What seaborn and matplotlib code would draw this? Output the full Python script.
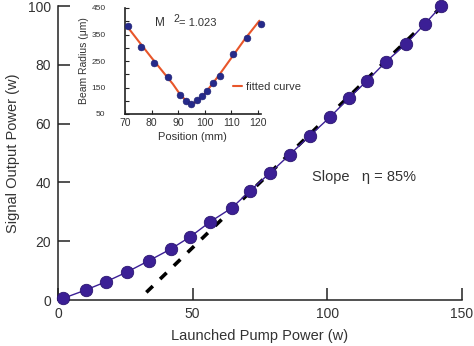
import matplotlib
matplotlib.use("Agg")
import matplotlib.pyplot as plt
import pandas as pd
import seaborn as sns

# Laser output vs. launched pump power
pump_power = [2.0, 10.3, 17.8, 25.8, 33.8, 41.8, 49.1, 56.5, 64.5, 71.4,
              78.8, 86.0, 93.4, 101.1, 107.9, 114.7, 121.6, 129.2, 136.2, 142.3]
signal_power = [0.6, 3.4, 6.2, 9.6, 13.4, 17.3, 21.5, 26.6, 31.3, 37.2,
                43.3, 49.4, 55.8, 62.3, 68.6, 74.5, 80.9, 87.1, 93.9, 100.0]

# Linear slope-efficiency fit above threshold
slope_x = [32.8, 142.3]
slope_y = [2.6, 99.6]

# Beam caustic (inset)
position_mm = [71.2, 76.2, 80.8, 86.2, 90.8, 92.8, 94.9, 97.0, 99.1, 101.0,
               102.9, 105.8, 110.7, 115.8, 121.2]
beam_radius_um = [382, 304, 244, 188, 122, 100, 88, 103, 118, 138,
                  166, 195, 276, 336, 388]
fit_position_mm = [71.0, 75.0, 80.0, 85.0, 88.0, 90.0, 92.0, 93.5, 95.0,
                   96.5, 98.0, 100.0, 102.0, 105.0, 110.0, 115.0, 120.5]
fit_radius_um = [378, 326, 262, 200, 163, 134, 110, 96, 90,
                 94, 106, 127, 153, 192, 262, 332, 402]

main_xticks = [0, 50, 100, 150]
main_yticks = [0, 20, 40, 60, 80, 100]
inset_xticks = [70, 80, 90, 100, 110, 120]
inset_yticks = [50, 100, 150, 200, 250, 300, 350, 400, 450]
inset_ylabels = ["50", "", "150", "", "250", "", "350", "", "450"]

POINT = "#3b1f95"
POINT_EDGE = "#2a1570"
FIT = "#e8562a"
TEXT = "#333333"

sns.set_theme(style="ticks")
plt.rcParams["font.family"] = ["Liberation Sans", "DejaVu Sans"]
plt.rcParams["text.color"] = TEXT
plt.rcParams["axes.labelcolor"] = TEXT

fig = plt.figure(figsize=(4.74, 3.46), dpi=100)

# ---- main axes ----
ax = fig.add_axes([58 / 474, 46 / 346, 404 / 474, 294 / 346])
main = pd.DataFrame({"pump": pump_power, "signal": signal_power})

slope_line = sns.lineplot(x=slope_x, y=slope_y, ax=ax, color="black",
                          linewidth=2.6, zorder=2)
slope_line.lines[-1].set_dashes((2.5, 2.8))
sns.lineplot(data=main, x="pump", y="signal", ax=ax, color=POINT,
             linewidth=1.0, zorder=3)
sns.scatterplot(data=main, x="pump", y="signal", ax=ax, s=80, color=POINT,
                edgecolor=POINT_EDGE, linewidth=0.6, zorder=4, clip_on=False)

ax.set_xlim(0, 150)
ax.set_ylim(0, 100)
ax.set_xticks(main_xticks)
ax.set_yticks(main_yticks)
ax.tick_params(direction="in", length=8.5, width=1.1, color="#222222",
               labelsize=10, labelcolor=TEXT, pad=5)
for side in ("top", "right"):
    ax.spines[side].set_visible(False)
for side in ("left", "bottom"):
    ax.spines[side].set_linewidth(1.1)
    ax.spines[side].set_color("#222222")
ax.set_xlabel("Launched Pump Power (w)", fontsize=10.5, labelpad=6)
ax.set_ylabel("Signal Output Power (w)", fontsize=10.5, labelpad=6)
ax.text(94.3, 41.8, "Slope   η = 85%", fontsize=10.5, va="center", ha="left")

# ---- inset: beam radius vs position ----
ins = fig.add_axes([125 / 474, (346 - 114) / 346, 135.7 / 474, 106 / 346])
ins.set_facecolor("none")
fit = pd.DataFrame({"pos": fit_position_mm, "r": fit_radius_um})
meas = pd.DataFrame({"pos": position_mm, "r": beam_radius_um})
sns.lineplot(data=fit, x="pos", y="r", ax=ins, color=FIT, linewidth=1.5,
             zorder=2, label="fitted curve")
sns.scatterplot(data=meas, x="pos", y="r", ax=ins, s=24, color="#262a8a",
                edgecolor="#1c1f70", linewidth=0.4, zorder=3, clip_on=False)

ins.set_xlim(70, 121)
ins.set_ylim(50, 450)
ins.set_xticks(inset_xticks)
ins.set_yticks(inset_yticks)
ins.set_yticklabels(inset_ylabels)
ins.tick_params(direction="in", length=3, width=0.8, color="#222222")
ins.tick_params(axis="x", labelsize=7.5, labelcolor=TEXT, pad=3)
ins.tick_params(axis="y", labelsize=6, labelcolor=TEXT, pad=14)
for side in ("top", "right"):
    ins.spines[side].set_visible(False)
for side in ("left", "bottom"):
    ins.spines[side].set_linewidth(1.2)
    ins.spines[side].set_color("#222222")
ins.set_xlabel("Position (mm)", fontsize=8, labelpad=3)
ins.set_ylabel("Beam Radius (μm)", fontsize=7.5, labelpad=2)
ins.legend(loc="center left", bbox_to_anchor=(0.796, 0.255), frameon=False,
           fontsize=8, handlelength=0.8, handletextpad=0.35, borderpad=0,
           borderaxespad=0)
ins.text(0.22, 0.86, "M", transform=ins.transAxes, fontsize=8.5,
         ha="left", va="center")
ins.text(0.355, 0.9, "2", transform=ins.transAxes, fontsize=7.5,
         ha="left", va="center")
ins.text(0.4, 0.86, "= 1.023", transform=ins.transAxes, fontsize=8,
         ha="left", va="center")

fig.savefig("out.png", dpi=100)
